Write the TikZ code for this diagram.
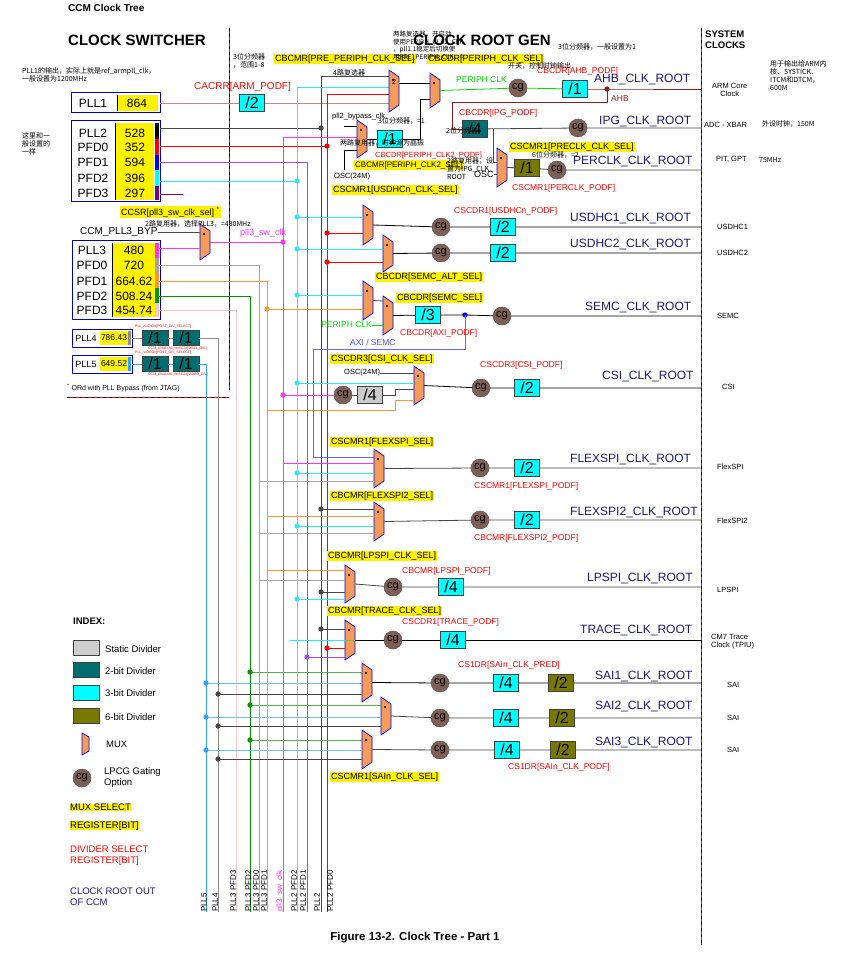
\documentclass[tikz,border=0pt]{standalone}
\usepackage{fontspec}
\setmainfont{Liberation Sans}
\newfontfamily\cjk{Noto Sans CJK SC}
\begin{document}
\begin{tikzpicture}[x=1pt,y=-1pt,
 w/.style={line width=0.8pt},
 div/.style={draw=black!75,line width=0.6pt,minimum width=25pt,minimum height=17pt,inner sep=0,font=\fontsize{16}{16}\selectfont},
 d3/.style={div,fill=cyn},d2/.style={div,fill=tealc},d6/.style={div,fill=olivec},ds/.style={div,fill=gray!40},
 cg/.style={circle,draw=black!70,fill=cgb,minimum size=18pt,inner sep=0,font=\fontsize{11}{11}\selectfont},
 reg/.style={fill=yellow,inner sep=1pt,anchor=west,font=\fontsize{9}{9}\selectfont},
 pod/.style={text=red,anchor=west,inner sep=0,font=\fontsize{8.5}{9}\selectfont},
 root/.style={text=navyc,anchor=west,inner sep=0,font=\fontsize{12}{12}\selectfont},
 sys/.style={anchor=west,inner sep=0,font=\fontsize{7.5}{8}\selectfont,align=center},
 cn/.style={anchor=west,inner sep=0,font=\cjk\fontsize{7}{8}\selectfont,align=left},
 muxst/.style={draw=blue!80!black,fill=muxo,line width=0.7pt},
 bl/.style={anchor=west,inner sep=0,rotate=90,font=\fontsize{8}{8}\selectfont},
 val/.style={inner sep=0,font=\fontsize{12}{12}\selectfont},
 hdr/.style={font=\bfseries\fontsize{15}{15}\selectfont,anchor=west,inner sep=0}]
\definecolor{cyn}{RGB}{0,255,255}
\definecolor{tealc}{RGB}{0,110,110}\definecolor{olivec}{RGB}{120,120,0}
\definecolor{cgb}{RGB}{125,95,85}\definecolor{navyc}{RGB}{25,25,110}
\definecolor{muxo}{RGB}{245,155,90}\definecolor{cpl1}{RGB}{190,140,140}
\definecolor{cpur}{RGB}{165,70,255}\definecolor{ccy}{RGB}{40,235,245}
\definecolor{cdpur}{RGB}{120,0,130}\definecolor{cmag}{RGB}{255,50,255}
\definecolor{cbr}{RGB}{175,160,160}\definecolor{cor}{RGB}{255,150,50}
\definecolor{cgr}{RGB}{0,150,0}\definecolor{cpk}{RGB}{240,200,200}
\definecolor{cp4}{RGB}{140,140,140}\definecolor{cp5}{RGB}{50,160,255}
\definecolor{cdr}{RGB}{140,30,30}\definecolor{cdk}{RGB}{70,70,70}
\newcommand\cmux[4]{\draw[muxst] (#2,#3) -- (#2+10,#3+7) -- (#2+10,#4-7) -- (#2,#4) -- cycle; \fill (#2+4,#3+10) circle (1.1pt); \coordinate (#1) at (#2+10,{(#3+#4)/2});}
\newcommand\dt[3]{\fill[#1] (#2,#3) circle (2.6pt);}
\useasboundingbox (0,0) rectangle (841,965);
\fill[white] (0,0) rectangle (841,965);
% headers
\node[anchor=west,inner sep=0,font=\bfseries\fontsize{10}{10}\selectfont] (t0) at (68,8) {CCM Clock Tree};
\node[hdr] (t1) at (68,40) {CLOCK SWITCHER};
\node[hdr,anchor=center] (t2) at (482,40) {CLOCK ROOT GEN};
\node[anchor=north west,inner sep=0,align=left,font=\bfseries\fontsize{9.5}{11}\selectfont] (t3) at (705,31) {SYSTEM\\CLOCKS};
\draw[red,line width=0.8pt] (229,28)--(229,390) (701,28)--(701,945);
\draw[black,dashed,line width=0.8pt] (229,28)--(229,390) (701,28)--(701,945);
\draw[red,line width=0.8pt] (67,397)--(229,397);\draw[black,dashed,line width=0.8pt] (67,397)--(229,397);
% ---- left source boxes
\node[cn,anchor=north west] at (22,67) {PLL1的输出，实际上就是ref\_armpll\_clk，\\一般设置为1200MHz};
\draw[blue!70!black,line width=1pt] (71,93) rectangle (160,113);
\fill[yellow] (117,95) rectangle (158,111);\draw[black] (117,95)--(117,111);
\node[val] at (93,103) {PLL1};\node[val] (p1) at (137,103) {864};
\node[cn,anchor=north west] at (22,132) {这里和一\\般设置的\\一样};
\draw[blue!70!black,line width=1pt] (71,121) rectangle (160,202);
\fill[yellow] (115,123) rectangle (154,200);\draw (115,123)--(115,200);
\foreach \n/\v/\y in {PLL2/528/133,PFD0/352/147,PFD1/594/162,PFD2/396/178,PFD3/297/193}{
 \node[val] at (93,\y) {\n};\node[val] at (135,\y) {\v};}
\fill[black] (155,123) rectangle (159,139);\fill[red] (155,139) rectangle (159,155);\fill[blue] (155,155) rectangle (159,170);\fill[cyn] (155,170) rectangle (159,186);\fill[cdpur] (155,186) rectangle (159,200);
\node[reg] at (120,212) {CCSR[pll3\_sw\_clk\_sel] \textsuperscript{*}};
\node[cn] at (145,224) {2路复用器，选择PLL3，=480MHz};
\node[anchor=west,inner sep=0,font=\fontsize{10}{10}\selectfont] (byp) at (80,232) {CCM\_PLL3\_BYP};
\draw[blue!70!black,line width=1pt] (72,241) rectangle (160,319);
\fill[yellow] (112,243) rectangle (155,317);\draw (112,243)--(112,317);
\foreach \n/\v/\y in {PLL3/480/250,PFD0/720/265,PFD1/664.62/281,PFD2/508.24/296,PFD3/454.74/310}{
 \node[val] at (92,\y) {\n};\node[val] at (134,\y) {\v};}
\fill[cmag] (155,243) rectangle (159,258);\fill[cbr] (155,258) rectangle (159,273);\fill[cor] (155,273) rectangle (159,288);\fill[cgr] (155,288) rectangle (159,303);\fill[cpk] (155,303) rectangle (159,317);
\cmux{m3}{200}{224}{260}
\draw[w,black!70] (byp.east)--(200,232);
\draw[w,cmag] (159,248)--(200,248);
\draw[w,cmag] (m3)--(283,242);\dt{cmag}{283}{242}
\node[anchor=west,inner sep=0,text=cmag,font=\fontsize{9}{9}\selectfont] at (240,233) {pll3\_sw\_clk};
% PLL4/5
\draw[blue!70!black,line width=1pt] (72,329) rectangle (132,347);\fill[yellow] (100,331) rectangle (128,345);\fill[cp4] (128,331) rectangle (131,345);
\node[val,font=\fontsize{9}{9}\selectfont] at (86,338) {PLL4};\node[val,font=\fontsize{8.5}{9}\selectfont] at (114,338) {786.43};
\draw[blue!70!black,line width=1pt] (72,355) rectangle (132,373);\fill[yellow] (100,357) rectangle (128,371);\fill[cp5] (128,357) rectangle (131,371);
\node[val,font=\fontsize{9}{9}\selectfont] at (86,364) {PLL5};\node[val,font=\fontsize{8.5}{9}\selectfont] at (114,364) {649.52};
\node[d2,minimum width=26pt,minimum height=15pt] (a1) at (155,338) {/1};\node[d2,minimum width=26pt,minimum height=15pt] (a2) at (186,338) {/1};
\node[d2,minimum width=26pt,minimum height=15pt] (v1) at (155,364) {/1};\node[d2,minimum width=26pt,minimum height=15pt] (v2) at (186,364) {/1};
\draw[w,cp4] (132,338)--(a1)--(a2);\draw[w,cp5] (132,364)--(v1)--(v2);
\node[pod,font=\fontsize{3.5}{4}\selectfont] at (135,327) {PLL\_AUDIOn[POST\_DIV\_SELECT]};
\node[pod,font=\fontsize{3.5}{4}\selectfont] at (148,349) {CCM\_ANALOG\_MISC2n[MSEL\_DIV]};
\node[pod,font=\fontsize{3.5}{4}\selectfont] at (135,353) {PLL\_VIDEOn[POST\_DIV\_SELECT]};
\node[pod,font=\fontsize{3.5}{4}\selectfont] at (148,375) {CCM\_ANALOG\_MISC2n[VIDEO\_DIV]};
\node[anchor=west,inner sep=0,font=\fontsize{7}{7}\selectfont] at (67,388) {\textsuperscript{*} ORd with PLL Bypass (from JTAG)};
% ---- bus rails
\draw[w,cpl1] (160,103)--(389,103);
\draw[w,cdk] (160,128)--(321,128);\draw[w,cdk] (321,76)--(321,912);\draw[w,cdk] (321,76)--(389,76);\dt{cdk}{321}{128}
\draw[w,red] (160,146)--(327,146);\draw[w,red] (327,94)--(327,912);\draw[w,red] (327,94)--(389,94);\dt{red}{327}{146}
\draw[w,cpur] (160,162)--(307,162)--(307,912);
\draw[w,ccy] (160,181)--(297,181);\draw[w,ccy] (297,87)--(297,912);\draw[w,ccy] (297,87)--(389,87);\dt{ccy}{297}{181}
\draw[w,cdpur] (160,194)--(183,194);
\draw[w,cmag] (283,137)--(283,912);\draw[w,cmag] (283,137)--(357,137);
\draw[w,cbr] (159,265)--(259,265)--(259,912);
\draw[w,cor] (159,281)--(267,281)--(267,912);
\draw[w,cgr] (159,296)--(250,296)--(250,912);
\draw[w,cpk] (159,310)--(236,310)--(236,912);
\draw[w,cp4] (a2)--(218,338)--(218,912);
\draw[w,cp5] (v2)--(206,364)--(206,912);
\foreach \t/\x/\c in {PLL5/204/black,PLL4/215/black,PLL3 PFD3/233/black,PLL3 PFD2/248/black,PLL3 PFD0/256/black,PLL3 PFD1/264/black,pll3\_sw\_clk/280/cmag,PLL2 PFD2/294/black,PLL2 PFD1/303/black,PLL2/317/black,PLL2 PFD0/330/black}
 \node[bl,text=\c] at (\x,912) {\t};
% ---- top section
\node[d3] (dArm) at (252,103) {/2};
\node[pod,font=\fontsize{10}{10}\selectfont] at (194,87) {CACRR[ARM\_PODF]};
\node[cn,anchor=north west] at (233,53) {3位分频器\\，范围1-8};
\node[reg] at (274,59) {CBCMR[PRE\_PERIPH\_CLK\_SEL]};
\node[cn] at (333,73) {4路复选器};
\cmux{mA}{389}{70}{112}
\node[inner sep=0,font=\fontsize{7}{7}\selectfont] at (394,82) {2};
\cmux{mB}{430}{73}{108}
\draw[w,black] (399,83)--(430,83);
\node[reg] at (427,59) {CBCDR[PERIPH\_CLK\_SEL]};
\node[cn,anchor=north west,font=\cjk\fontsize{6.5}{7.5}\selectfont] at (393,31) {两路复选器，开启动\\使用PERIPH\_CLK2\_CLK\\，pll1.1稳定后切换使\\用PRE\_PERIPH\_CLK，=};
\cmux{mC}{357}{120}{158}
\draw[w,black] (344,126)--(357,126);\draw[w,black] (344,150)--(357,150);\draw[w,black] (344,150)--(344,170);
\node[anchor=west,inner sep=0,font=\fontsize{7.5}{8}\selectfont] at (332,117) {pll2\_bypass\_clk};
\node[anchor=west,inner sep=0,font=\fontsize{7.5}{8}\selectfont] at (334,177) {OSC(24M)};
\node[d3] (dP2) at (390,139) {/1};
\draw[w,black] (mC)--(dP2);\draw[w,black] (dP2.east)--(420,139)--(420,99)--(430,99);
\node[cn] at (378,121) {3位分频器，=1};
\node[cn] at (340,143) {两路复用器，时钟源为晶振};
\node[pod,font=\fontsize{7.5}{8}\selectfont] at (375,156) {CBCDR[PERIPH\_CLK2\_PODF]};
\node[reg,font=\fontsize{8}{8}\selectfont] at (354,165) {CBCMR[PERIPH\_CLK2\_SEL]};
\node[cg] (cgA) at (518,88) {cg};\node[d3] (dAhb) at (575,89) {/1};
\coordinate (ahb) at (607,89);
\draw[w,green!85!black] (mB)--(cgA);\draw[w,green!85!black] (cgA)--(dAhb);
\node[anchor=west,inner sep=0,text=green!80!black,font=\fontsize{8.5}{9}\selectfont] at (456,80) {PERIPH CLK};
\draw[w,cdr] (dAhb)--(ahb)--(701,89);\dt{cdr}{607}{89}
\draw[w,cdr] (ahb)--(607,102)--(452,102)--(452,129)--(463,129);
\node[anchor=west,inner sep=0,text=cdr,font=\fontsize{8.5}{9}\selectfont] at (611,99) {AHB};
\node[root] at (594,80) {AHB\_CLK\_ROOT};
\node[pod] at (537,71) {CBCDR[AHB\_PODF]};
\node[cn] at (558,47) {3位分频器，一般设置为1};
\node[cn] at (508,66) {开关，控制时钟输出};
\node[d2] (dIpg) at (475,129) {/4};
\node[cg] (cgI) at (578,128) {cg};
\draw[w,cdk] (dIpg)--(cgI)--(701,128);
\node[pod] at (459,113) {CBCDR[IPG\_PODF]};
\node[cn] at (446,131) {2位分频器};
\node[root] at (599,122) {IPG\_CLK\_ROOT};
\cmux{mD}{497}{148}{187}
\draw[w,cdk] (493,129)--(493,162)--(497,162);
\node[anchor=west,inner sep=0,font=\fontsize{9}{9}\selectfont] (osc2) at (474,174) {OSC};
\draw[w,cdk] (osc2.east)--(497,174);
\node[d6] (dPer) at (527,168) {/1};\node[cg] (cgP) at (557,170) {cg};
\draw[w,cdk] (mD)--(dPer)--(cgP)--(701,170);
\node[reg] at (509,147) {CSCMR1[PRECLK\_CLK\_SEL]};
\node[pod] at (512,188) {CSCMR1[PERCLK\_PODF]};
\node[cn] at (532,155) {6位分频器，=2};
\node[cn,anchor=north west] at (447,157) {2路复用器，设\\置为IPG\_CLK\_\\ROOT};
\node[root] at (573,162) {PERCLK\_CLK\_ROOT};
% system clocks
\node[sys] at (712,90) {ARM Core\\Clock};\node[sys] at (704,125) {ADC - XBAR};\node[sys] at (716,159) {PIT, GPT};
\node[cn,anchor=north west] at (770,60) {用于输出给ARM内\\核、SYSTICK、\\ITCM和DTCM，\\600M};
\node[cn] at (762,124) {外设时钟，150M};\node[cn] at (759,160) {75MHz};
% ---- USDHC
\node[reg] at (332,190) {CSCMR1[USDHCn\_CLK\_SEL]};
\cmux{mU1}{363}{205}{245}
\draw[w,ccy] (297,217)--(363,217);\dt{ccy}{297}{217}\draw[w,red] (327,233)--(363,233);\dt{red}{327}{233}
\node[cg] (cgU1) at (441,227) {cg};\node[d3] (dU1) at (503,227) {/2};
\draw[w,black] (mU1)--(cgU1)--(dU1)--(701,227);
\node[pod] at (454,211) {CSCDR1[USDHCn\_PODF]};\node[root] at (570,219) {USDHC1\_CLK\_ROOT};\node[sys] at (717,227) {USDHC1};
\cmux{mU2}{383}{235}{272}
\draw[w,ccy] (297,249)--(383,249);\dt{ccy}{297}{249}\draw[w,red] (327,262)--(383,262);\dt{red}{327}{262}
\node[cg] (cgU2) at (441,253) {cg};\node[d3] (dU2) at (503,253) {/2};
\draw[w,black] (mU2)--(cgU2)--(dU2)--(701,253);
\node[root] at (570,245) {USDHC2\_CLK\_ROOT};\node[sys] at (717,253) {USDHC2};
% ---- SEMC
\cmux{mS1}{363}{281}{320}\cmux{mS2}{383}{296}{335}
\draw[w,ccy] (297,295)--(363,295);\dt{ccy}{297}{295}\draw[w,cor] (267,309)--(363,309);\dt{cor}{267}{309}
\draw[w,cdk] (mS1)--(383,301);
\draw[w,green!85!black] (372,325)--(383,325);
\node[anchor=east,inner sep=0,text=green!85!black,font=\fontsize{8.5}{9}\selectfont] at (372,325) {PERIPH CLK};
\node[d3] (dS) at (428,315) {/3};\coordinate (axi) at (465,315);
\node[cg] (cgS) at (502,316) {cg};
\draw[w,black] (mS2)--(dS)--(axi)--(cgS)--(701,316);\dt{blue}{465}{315}
\draw[w,blue!60] (axi)--(465,349)--(313,349)--(313,457)--(374,457);
\node[reg] at (375,277) {CBCDR[SEMC\_ALT\_SEL]};\node[reg] at (396,298) {CBCDR[SEMC\_SEL]};
\node[pod] at (400,333) {CBCDR[AXI\_PODF]};
\node[anchor=west,inner sep=0,text=blue!70,font=\fontsize{8.5}{9}\selectfont] at (350,342) {AXI / SEMC};
\node[root] at (585,308) {SEMC\_CLK\_ROOT};\node[sys] at (717,316) {SEMC};
% ---- CSI
\node[reg] at (330,359) {CSCDR3[CSI\_CLK\_SEL]};
\cmux{mCs}{414}{366}{405}
\node[anchor=west,inner sep=0,font=\fontsize{7.5}{8}\selectfont] (osc3) at (344,373) {OSC(24M)};
\draw[w,cdk] (osc3.east)--(414,373);
\draw[w,ccy] (297,383)--(414,383);\dt{ccy}{297}{383}
\node[cg] (cgCs0) at (343,395) {cg};\node[ds] (dCs0) at (370,395) {/4};
\draw[w,cmag] (283,395)--(cgCs0);\dt{cmag}{283}{395}
\draw[w,cdk] (cgCs0)--(dCs0);\draw[w,cdk] (dCs0.east)--(395,395)--(395,389)--(414,389);
\draw[w,cor] (267,410)--(395,410)--(395,400)--(414,400);
\node[cg] (cgCs) at (481,388) {cg};\node[d3] (dCs) at (527,388) {/2};
\draw[w,black] (mCs)--(cgCs)--(dCs)--(701,388);
\node[pod] at (480,365) {CSCDR3[CSI\_PODF]};\node[root] at (602,377) {CSI\_CLK\_ROOT};\node[sys] at (722,387) {CSI};
% ---- FLEXSPI
\node[reg] at (330,442) {CSCMR1[FLEXSPI\_SEL]};
\cmux{mF1}{374}{449}{488}
\draw[w,cmag] (283,463)--(374,463);\draw[w,ccy] (297,473)--(374,473);\dt{ccy}{297}{473}\draw[w,cbr] (259,481)--(374,481);
\node[cg] (cgF1) at (480,468) {cg};\node[d3] (dF1) at (527,468) {/2};
\draw[w,cdk] (mF1)--(cgF1)--(dF1)--(701,468);
\node[pod] at (474,486) {CSCMR1[FLEXSPI\_PODF]};\node[root] at (570,459) {FLEXSPI\_CLK\_ROOT};\node[sys] at (717,467) {FlexSPI};
\node[reg] at (330,496) {CBCMR[FLEXSPI2\_SEL]};
\cmux{mF2}{374}{502}{541}
\draw[w,cdk] (321,509)--(374,509);\dt{cdk}{321}{509}\draw[w,cor] (267,516)--(374,516);\draw[w,ccy] (297,526)--(374,526);\dt{ccy}{297}{526}\draw[w,cbr] (259,533)--(374,533);
\node[cg] (cgF2) at (480,520) {cg};\node[d3] (dF2) at (527,520) {/2};
\draw[w,cdk] (mF2)--(cgF2)--(dF2)--(701,520);
\node[pod] at (474,538) {CBCMR[FLEXSPI2\_PODF]};\node[root] at (570,512) {FLEXSPI2\_CLK\_ROOT};\node[sys] at (717,521) {FlexSPI2};
% ---- LPSPI / TRACE
\node[reg] at (327,556) {CBCMR[LPSPI\_CLK\_SEL]};
\cmux{mL}{345}{565}{603}
\draw[w,cor] (267,570)--(345,570);\draw[w,cbr] (259,580)--(345,580);\draw[w,cdk] (321,592)--(345,592);\dt{cdk}{321}{592}\draw[w,ccy] (297,599)--(345,599);\dt{ccy}{297}{599}
\node[cg] (cgL) at (393,587) {cg};\node[d3] (dL) at (451,587) {/4};
\draw[w,cdk] (mL)--(cgL)--(dL)--(701,587);
\node[pod] at (402,571) {CBCMR[LPSPI\_PODF]};\node[root] at (587,578) {LPSPI\_CLK\_ROOT};\node[sys] at (717,590) {LPSPI};
\node[reg] at (327,611) {CBCMR[TRACE\_CLK\_SEL]};
\cmux{mT}{345}{620}{660}
\draw[w,cdk] (321,629)--(345,629);\dt{cdk}{321}{629}\draw[w,ccy] (290,640)--(345,640);\draw[w,cgr!60] (345,640)--(364,640);
\draw[w,red] (327,648)--(345,648);\dt{red}{327}{648}\draw[w,cpur] (307,657)--(345,657);\dt{cpur}{307}{657}
\node[cg] (cgT) at (393,640) {cg};\node[d3] (dT) at (453,640) {/4};
\draw[w,black] (mT)--(cgT)--(dT)--(701,640);
\node[pod] at (402,622) {CSCDR1[TRACE\_PODF]};\node[root] at (580,630) {TRACE\_CLK\_ROOT};
\node[sys,align=left] at (711,642) {CM7 Trace\\Clock (TPIU)};
% ---- SAI
\cmux{mA1}{362}{663}{702}\cmux{mA2}{381}{697}{735}\cmux{mA3}{362}{730}{769}
\foreach \m/\g/\b/\k in {362/672/683/694,381/705/717/726,362/740/750/759}{
 \draw[w,cgr!70] (250,\g)--(\m,\g);\dt{cgr}{250}{\g}
 \draw[w,cp5!70] (206,\b)--(\m,\b);\dt{cp5}{206}{\b}
 \draw[w,cdk] (218,\k)--(\m,\k);\dt{cdk}{218}{\k}}
\node[cg] (cgS1) at (440,683) {cg};\node[d3] (dS1a) at (506,683) {/4};\node[d6] (dS1b) at (561,683) {/2};
\node[cg] (cgS2) at (440,718) {cg};\node[d3] (dS2a) at (506,718) {/4};\node[d6] (dS2b) at (562,718) {/2};
\node[cg] (cgS3) at (440,750) {cg};\node[d3] (dS3a) at (507,750) {/4};\node[d6] (dS3b) at (563,750) {/2};
\draw[w,black] (mA1)--(cgS1)--(dS1a)--(dS1b)--(701,683);
\draw[w,cdk] (mA2)--(cgS2)--(dS2a)--(dS2b)--(701,718);
\draw[w,cdk] (mA3)--(cgS3)--(dS3a)--(dS3b)--(701,750);
\node[pod] at (458,665) {CS1DR[SAIn\_CLK\_PRED]};\node[pod] at (508,767) {CS1DR[SAIn\_CLK\_PODF]};
\node[reg] at (330,777) {CSCMR1[SAIn\_CLK\_SEL]};
\node[root] at (595,676) {SAI1\_CLK\_ROOT};\node[root] at (595,706) {SAI2\_CLK\_ROOT};\node[root] at (595,742) {SAI3\_CLK\_ROOT};
\node[sys] at (727,685) {SAI};\node[sys] at (727,718) {SAI};\node[sys] at (727,750) {SAI};
% ---- legend
\node[anchor=west,inner sep=0,font=\bfseries\fontsize{9.5}{10}\selectfont] at (73,621) {INDEX:};
\node[ds,minimum width=26pt,minimum height=15pt] at (86,648) {};\node[sys,font=\fontsize{9.5}{10}\selectfont] at (105,649) {Static Divider};
\node[d2,minimum width=26pt,minimum height=15pt] at (86,670) {};\node[sys,font=\fontsize{9.5}{10}\selectfont] at (105,671) {2-bit Divider};
\node[d3,minimum width=26pt,minimum height=15pt] at (86,693) {};\node[sys,font=\fontsize{9.5}{10}\selectfont] at (105,693) {3-bit Divider};
\node[d6,minimum width=26pt,minimum height=15pt] at (86,716) {};\node[sys,font=\fontsize{9.5}{10}\selectfont] at (105,717) {6-bit Divider};
\draw[muxst] (82,733)--(89,737)--(89,751)--(82,755)--cycle;\node[sys,font=\fontsize{9.5}{10}\selectfont] at (106,744) {MUX};
\node[cg] at (82,778) {cg};\node[sys,align=left,font=\fontsize{9.5}{11}\selectfont] at (104,778) {LPCG Gating\\Option};
\node[anchor=north west,inner sep=0,fill=yellow,font=\fontsize{9.5}{11}\selectfont] at (70,804) {MUX SELECT};
\node[anchor=north west,inner sep=0,fill=yellow,font=\fontsize{9.5}{11}\selectfont] at (70,821) {REGISTER[BIT]};
\node[anchor=north west,inner sep=0,text=red,align=left,font=\fontsize{9.5}{11}\selectfont] at (70,846) {DIVIDER SELECT\\REGISTER[BIT]};
\node[anchor=north west,inner sep=0,text=navyc,align=left,font=\fontsize{9.5}{11}\selectfont] at (70,888) {CLOCK ROOT OUT\\OF CCM};
\node[font=\bfseries\fontsize{11.5}{12}\selectfont] at (415,938) {Figure 13-2. Clock Tree - Part 1};
\end{tikzpicture}
\end{document}
